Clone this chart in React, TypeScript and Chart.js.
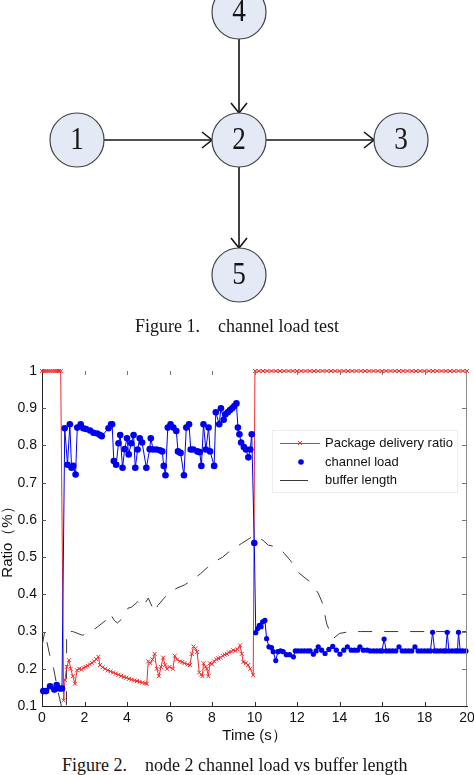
import React, { useEffect, useRef } from 'react';
import { Chart, registerables } from 'chart.js';
Chart.register(...registerables);

// ---------- Figure 1: network topology ----------
const nodeLabels = ['1', '2', '3', '4', '5'];
const nodeX = [77, 239, 401, 239, 239];
const nodeY = [140, 140, 140, 12, 275];
const nodeRadius = 27;
const edgeFrom = [0, 1, 3, 1];
const edgeTo = [1, 2, 1, 4];

// ---------- Figure 2: data (time s, ratio) ----------
const deliveryRatio: [number, number][] = [
  [0, 1], [0.1, 1], [0.2, 1], [0.3, 1], [0.4, 1], [0.5, 1], [0.6, 1], [0.7, 1], [0.8, 1], [0.88, 1],
  [1.02, 0.115], [1.08, 0.17], [1.16, 0.205], [1.27, 0.223], [1.35, 0.2], [1.45, 0.18], [1.55, 0.16],
  [1.65, 0.196], [1.75, 0.2], [1.85, 0.198], [1.95, 0.202], [2.05, 0.205], [2.15, 0.208], [2.25, 0.212],
  [2.35, 0.216], [2.45, 0.22], [2.55, 0.226], [2.65, 0.232], [2.73, 0.21], [2.85, 0.204], [2.97, 0.2],
  [3.1, 0.196], [3.22, 0.193], [3.35, 0.19], [3.47, 0.187], [3.6, 0.184], [3.72, 0.181], [3.85, 0.178],
  [3.97, 0.176], [4.1, 0.173], [4.22, 0.171], [4.35, 0.169], [4.47, 0.167], [4.6, 0.165], [4.72, 0.163],
  [4.85, 0.161], [4.93, 0.16], [5.0, 0.22], [5.1, 0.215], [5.2, 0.225], [5.3, 0.24], [5.4, 0.2], [5.5, 0.18],
  [5.6, 0.205], [5.7, 0.23], [5.8, 0.21], [5.88, 0.2], [6.0, 0.205], [6.16, 0.2], [6.25, 0.235], [6.35, 0.225],
  [6.5, 0.22], [6.6, 0.218], [6.7, 0.215], [6.85, 0.212], [6.96, 0.21], [7.05, 0.24], [7.13, 0.26], [7.22, 0.255],
  [7.3, 0.245], [7.4, 0.19], [7.5, 0.185], [7.55, 0.18], [7.6, 0.215], [7.7, 0.205], [7.75, 0.2], [7.83, 0.18],
  [7.9, 0.215], [8.0, 0.212], [8.1, 0.22], [8.2, 0.225], [8.3, 0.228], [8.4, 0.23], [8.5, 0.235], [8.6, 0.238],
  [8.7, 0.24], [8.8, 0.244], [8.9, 0.246], [9.0, 0.25], [9.1, 0.248], [9.2, 0.252], [9.32, 0.263], [9.4, 0.24],
  [9.47, 0.218], [9.6, 0.215], [9.7, 0.21], [9.8, 0.2], [9.94, 0.183],
  [10.02, 1], [10.2, 1], [10.4, 1], [10.6, 1], [10.8, 1], [11.0, 1], [11.2, 1], [11.4, 1], [11.6, 1], [11.8, 1],
  [12.0, 1], [12.2, 1], [12.4, 1], [12.6, 1], [12.8, 1], [13.0, 1], [13.2, 1], [13.4, 1], [13.6, 1], [13.8, 1],
  [14.0, 1], [14.2, 1], [14.4, 1], [14.6, 1], [14.8, 1], [15.0, 1], [15.2, 1], [15.4, 1], [15.6, 1], [15.8, 1],
  [16.0, 1], [16.2, 1], [16.4, 1], [16.6, 1], [16.8, 1], [17.0, 1], [17.2, 1], [17.4, 1], [17.6, 1], [17.8, 1],
  [18.0, 1], [18.2, 1], [18.4, 1], [18.6, 1], [18.8, 1], [19.0, 1], [19.2, 1], [19.4, 1], [19.6, 1], [19.8, 1],
  [20.0, 1],
];

const channelLoad: [number, number][] = [
  [0.06, 0.14], [0.19, 0.14], [0.38, 0.153], [0.58, 0.144], [0.69, 0.156], [0.82, 0.147], [0.94, 0.147],
  [1.07, 0.846], [1.2, 0.748], [1.31, 0.857], [1.39, 0.74], [1.47, 0.745], [1.58, 0.722], [1.66, 0.848],
  [1.82, 0.857], [1.94, 0.846], [2.07, 0.844], [2.26, 0.84], [2.42, 0.834], [2.6, 0.832], [2.73, 0.828],
  [2.81, 0.825], [3.13, 0.846], [3.25, 0.857], [3.3, 0.857], [3.38, 0.758], [3.49, 0.748], [3.6, 0.806],
  [3.68, 0.828], [3.79, 0.74], [3.89, 0.79], [4.0, 0.819], [4.08, 0.776], [4.2, 0.806], [4.31, 0.828],
  [4.39, 0.74], [4.5, 0.789], [4.6, 0.819], [4.71, 0.808], [4.91, 0.74], [5.07, 0.79], [5.12, 0.819],
  [5.23, 0.789], [5.39, 0.789], [5.55, 0.787], [5.66, 0.784], [5.73, 0.745], [5.81, 0.72], [5.92, 0.848],
  [6.05, 0.857], [6.18, 0.848], [6.32, 0.839], [6.4, 0.784], [6.52, 0.78], [6.68, 0.72], [6.79, 0.848],
  [6.92, 0.857], [7.0, 0.789], [7.12, 0.789], [7.31, 0.784], [7.42, 0.782], [7.5, 0.745], [7.6, 0.857],
  [7.71, 0.789], [7.84, 0.848], [7.91, 0.784], [8.1, 0.745], [8.18, 0.889], [8.34, 0.857], [8.42, 0.9],
  [8.55, 0.869], [8.63, 0.884], [8.74, 0.889], [8.85, 0.895], [8.95, 0.9], [9.05, 0.906], [9.15, 0.913],
  [9.22, 0.848], [9.29, 0.83], [9.37, 0.808], [9.5, 0.796], [9.6, 0.789], [9.71, 0.768], [9.8, 0.789],
  [9.87, 0.83], [9.99, 0.538], [10.06, 0.297], [10.15, 0.308], [10.23, 0.317], [10.31, 0.313], [10.38, 0.326],
  [10.49, 0.33], [10.57, 0.281], [10.68, 0.259], [10.8, 0.257], [10.88, 0.246], [11.0, 0.222], [11.1, 0.246],
  [11.23, 0.248], [11.35, 0.246], [11.5, 0.238], [11.65, 0.238], [11.83, 0.232], [11.92, 0.248], [12.05, 0.248],
  [12.2, 0.248], [12.35, 0.248], [12.5, 0.248], [12.62, 0.248], [12.77, 0.239], [12.9, 0.248], [13.0, 0.259],
  [13.16, 0.25], [13.32, 0.241], [13.5, 0.252], [13.68, 0.26], [13.85, 0.25], [14.02, 0.239], [14.2, 0.25],
  [14.37, 0.259], [14.55, 0.25], [14.7, 0.25], [14.85, 0.25], [14.96, 0.259], [15.12, 0.25], [15.3, 0.25],
  [15.45, 0.248], [15.6, 0.248], [15.75, 0.248], [15.9, 0.248], [16.0, 0.248], [16.1, 0.28], [16.2, 0.248],
  [16.35, 0.248], [16.5, 0.248], [16.65, 0.248], [16.8, 0.259], [16.95, 0.248], [17.1, 0.248], [17.25, 0.248],
  [17.4, 0.248], [17.55, 0.259], [17.7, 0.248], [17.85, 0.248], [18.0, 0.248], [18.15, 0.248], [18.28, 0.248],
  [18.38, 0.298], [18.48, 0.248], [18.6, 0.248], [18.75, 0.248], [18.9, 0.248], [19.0, 0.248], [19.07, 0.298],
  [19.15, 0.248], [19.3, 0.248], [19.45, 0.248], [19.55, 0.248], [19.6, 0.298], [19.68, 0.248], [19.8, 0.248],
  [19.95, 0.248],
];

const bufferLength: [number, number][] = [
  [0, 0.26], [0.13, 0.3], [0.35, 0.24], [0.55, 0.2], [0.75, 0.14], [0.95, 0.09], [1.15, 0.09], [1.16, 0.3],
  [1.45, 0.3], [1.9, 0.29], [2.26, 0.298], [2.6, 0.312], [3.0, 0.33], [3.2, 0.349], [3.4, 0.33], [3.55, 0.323],
  [3.8, 0.336], [4.05, 0.363], [4.2, 0.365], [4.5, 0.38], [4.75, 0.366], [5.0, 0.39], [5.3, 0.352], [5.45, 0.37],
  [5.75, 0.39], [6.0, 0.406], [6.4, 0.418], [6.7, 0.425], [7.05, 0.438], [7.45, 0.455], [7.8, 0.473], [8.1, 0.487],
  [8.5, 0.5], [8.9, 0.519], [9.4, 0.537], [10.0, 0.559], [10.4, 0.545], [10.65, 0.532], [11.1, 0.527], [11.4, 0.51],
  [11.7, 0.49], [12.1, 0.457], [12.6, 0.434], [13.0, 0.403], [13.2, 0.376], [13.4, 0.32], [13.7, 0.281],
  [14.0, 0.295], [14.5, 0.3], [15.0, 0.3], [16.0, 0.3], [17.0, 0.3], [18.0, 0.3], [19.0, 0.3], [20.0, 0.3],
];

const seriesNames = ['Package delivery ratio', 'channel load', 'buffer length'];
const xTitle = 'Time (s\uFF09';
const yTitle = 'Ratio\uFF08%\uFF09';
const caption1 = ['Figure 1.', 'channel load test'];
const caption2 = ['Figure 2.', 'node 2 channel load vs buffer length'];

const RED = '#f22a2a';
const BLUE = '#0000f0';
const GRAY = '#3a3a3a';
const SANS = '"Liberation Sans", Arial, sans-serif';
const SERIF = '"Liberation Serif", "Times New Roman", serif';

const toPts = (arr: [number, number][]) => arr.map(([x, y]) => ({ x, y }));

export default function App() {
  const topRef = useRef<HTMLCanvasElement>(null);
  const botRef = useRef<HTMLCanvasElement>(null);

  useEffect(() => {
    // ---------- diagram ----------
    const nodeData = nodeX.map((x, i) => ({ x, y: nodeY[i] }));
    const edgeSets: any[] = [];
    edgeFrom.forEach((f, i) => {
      const t = edgeTo[i];
      const dx = nodeX[t] - nodeX[f];
      const dy = nodeY[t] - nodeY[f];
      const len = Math.hypot(dx, dy);
      const ux = dx / len;
      const uy = dy / len;
      const sx = nodeX[f] + ux * nodeRadius;
      const sy = nodeY[f] + uy * nodeRadius;
      const ex = nodeX[t] - ux * nodeRadius;
      const ey = nodeY[t] - uy * nodeRadius;
      edgeSets.push({
        data: [{ x: sx, y: sy }, { x: ex, y: ey }],
        showLine: true, borderColor: '#151515', borderWidth: 1.6, pointRadius: 0, clip: false,
      });
      const back = 10;
      const side = 8;
      edgeSets.push({
        data: [
          { x: ex - ux * back - uy * side, y: ey - uy * back + ux * side },
          { x: ex, y: ey },
          { x: ex - ux * back + uy * side, y: ey - uy * back - ux * side },
        ],
        showLine: true, borderColor: '#151515', borderWidth: 1.6, pointRadius: 0, clip: false,
      });
    });

    const nodeText = {
      id: 'nodeText',
      afterDatasetsDraw(chart: any) {
        const { ctx, scales } = chart;
        ctx.save();
        ctx.fillStyle = '#151515';
        ctx.font = `32px ${SERIF}`;
        ctx.textAlign = 'center';
        ctx.textBaseline = 'alphabetic';
        nodeLabels.forEach((lab, i) => {
          const px = scales.x.getPixelForValue(nodeX[i]);
          const py = scales.y.getPixelForValue(nodeY[i]);
          ctx.save();
          ctx.translate(px, py + 9);
          ctx.scale(0.85, 1);
          ctx.fillText(lab, 0, 0);
          ctx.restore();
        });
        ctx.restore();
      },
    };

    const top = new Chart(topRef.current!, {
      type: 'scatter',
      data: {
        datasets: [
          {
            data: nodeData,
            pointRadius: nodeRadius,
            pointBackgroundColor: '#e3e9f5',
            pointBorderColor: '#444',
            pointBorderWidth: 1.2,
            showLine: false,
            clip: false,
          } as any,
          ...edgeSets,
        ],
      },
      options: {
        responsive: false,
        animation: false,
        events: [],
        layout: { padding: 0, autoPadding: false },
        plugins: { legend: { display: false }, tooltip: { enabled: false } },
        scales: {
          x: { type: 'linear', min: 0, max: 474, display: false },
          y: { type: 'linear', min: 0, max: 345, reverse: true, display: false },
        },
      },
      plugins: [nodeText],
    });

    // ---------- line chart ----------
    const innerTicks = {
      id: 'innerTicks',
      afterDraw(chart: any) {
        const { ctx, chartArea: a, scales } = chart;
        ctx.save();
        ctx.lineWidth = 1;
        ctx.strokeStyle = '#8a8a8a';
        ctx.beginPath();
        ctx.moveTo(a.right - 0.5, a.top);
        ctx.lineTo(a.right - 0.5, a.bottom);
        ctx.stroke();
        scales.x.ticks.forEach((t: any, i: number, arr: any[]) => {
          if (i === 0 || i === arr.length - 1) return;
          const px = Math.round(scales.x.getPixelForValue(t.value)) + 0.5;
          ctx.strokeStyle = '#333';
          ctx.beginPath();
          ctx.moveTo(px, a.bottom);
          ctx.lineTo(px, a.bottom - 4);
          ctx.stroke();
          ctx.strokeStyle = '#777';
          ctx.beginPath();
          ctx.moveTo(px, a.top);
          ctx.lineTo(px, a.top + 4);
          ctx.stroke();
        });
        scales.y.ticks.forEach((t: any, i: number, arr: any[]) => {
          if (i === 0 || i === arr.length - 1) return;
          const py = Math.round(scales.y.getPixelForValue(t.value)) + 0.5;
          ctx.strokeStyle = '#777';
          ctx.beginPath();
          ctx.moveTo(a.right, py);
          ctx.lineTo(a.right - 5, py);
          ctx.stroke();
          ctx.strokeStyle = '#555';
          ctx.beginPath();
          ctx.moveTo(a.left, py);
          ctx.lineTo(a.left + 4, py);
          ctx.stroke();
        });
        ctx.restore();
      },
    };

    const legendBox = {
      id: 'legendBox',
      afterDraw(chart: any) {
        const { ctx } = chart;
        ctx.save();
        ctx.fillStyle = '#ffffff';
        ctx.strokeStyle = '#ececec';
        ctx.lineWidth = 1;
        ctx.fillRect(272, 90, 185, 62);
        ctx.strokeRect(272.5, 90.5, 185, 62);
        const rows = [103, 122, 140];
        ctx.strokeStyle = RED;
        ctx.beginPath();
        ctx.moveTo(280, rows[0] + 0.5);
        ctx.lineTo(320, rows[0] + 0.5);
        ctx.stroke();
        ctx.beginPath();
        ctx.moveTo(298, rows[0] - 2);
        ctx.lineTo(302, rows[0] + 2);
        ctx.moveTo(302, rows[0] - 2);
        ctx.lineTo(298, rows[0] + 2);
        ctx.stroke();
        ctx.fillStyle = BLUE;
        ctx.beginPath();
        ctx.arc(301, rows[1], 2.8, 0, Math.PI * 2);
        ctx.fill();
        ctx.strokeStyle = GRAY;
        ctx.beginPath();
        ctx.moveTo(280, rows[2] + 0.5);
        ctx.lineTo(308, rows[2] + 0.5);
        ctx.stroke();
        ctx.fillStyle = '#111';
        ctx.font = `13px ${SANS}`;
        ctx.textAlign = 'left';
        ctx.textBaseline = 'middle';
        seriesNames.forEach((n, i) => ctx.fillText(n, 325, rows[i] + 0.5));
        ctx.restore();
      },
    };

    const bottom = new Chart(botRef.current!, {
      type: 'scatter',
      data: {
        datasets: [
          {
            label: seriesNames[1],
            data: toPts(channelLoad),
            showLine: true,
            borderColor: BLUE,
            borderWidth: 1,
            pointStyle: 'circle',
            pointRadius: (c: any) => (c.raw && c.raw.x < 10 ? 3.3 : 2.6),
            pointBackgroundColor: BLUE,
            pointBorderColor: BLUE,
            pointBorderWidth: 0,
            clip: 6,
          } as any,
          {
            label: seriesNames[0],
            data: toPts(deliveryRatio),
            showLine: true,
            borderColor: RED,
            borderWidth: 1,
            pointStyle: 'crossRot',
            pointRadius: 2.8,
            pointBorderColor: RED,
            pointBackgroundColor: RED,
            pointBorderWidth: 1,
            clip: 6,
          },
          {
            label: seriesNames[2],
            data: toPts(bufferLength),
            showLine: true,
            borderColor: GRAY,
            borderWidth: 1,
            borderDash: [14, 12],
            pointRadius: 0,
          },
        ],
      },
      options: {
        responsive: false,
        animation: false,
        events: [],
        layout: { padding: { top: 31, right: 7, left: 0, bottom: 0 }, autoPadding: false },
        plugins: { legend: { display: false }, tooltip: { enabled: false } },
        scales: {
          x: {
            type: 'linear',
            min: 0,
            max: 20,
            grid: { display: false, drawTicks: false },
            border: { display: true, color: '#222', width: 1 },
            ticks: {
              stepSize: 2,
              autoSkip: false,
              maxRotation: 0,
              padding: 4,
              color: '#111',
              font: { family: SANS, size: 14 },
            },
            title: {
              display: true,
              text: xTitle,
              color: '#111',
              font: { family: SANS, size: 15, lineHeight: 1.2 },
              padding: { top: 0, bottom: 5 },
            },
            afterFit: (s: any) => {
              s.height = 44;
              s.paddingLeft = 0;
              s.paddingRight = 0;
            },
          },
          y: {
            type: 'linear',
            min: 0.1,
            max: 1,
            grid: { display: false, drawTicks: false },
            border: { display: true, color: '#222', width: 1 },
            ticks: {
              stepSize: 0.1,
              padding: 5,
              color: '#111',
              font: { family: SANS, size: 14 },
              callback: (v: any) => String(Math.round(Number(v) * 10) / 10),
            },
            title: {
              display: true,
              text: yTitle,
              color: '#111',
              font: { family: SANS, size: 15, lineHeight: 1 },
              padding: 0,
            },
            afterFit: (s: any) => {
              s.width = 42;
              s.paddingTop = 0;
              s.paddingBottom = 0;
            },
          },
        },
      },
      plugins: [innerTicks, legendBox],
    });

    return () => {
      top.destroy();
      bottom.destroy();
    };
  }, []);

  const capStyle: React.CSSProperties = {
    position: 'absolute',
    fontFamily: SERIF,
    fontSize: 18,
    lineHeight: '18px',
    color: '#151515',
    whiteSpace: 'pre',
  };

  return (
    <div style={{ position: 'fixed', left: 0, top: 0, width: 474, height: 775, background: '#fff', overflow: 'hidden' }}>
      <canvas ref={topRef} width={474} height={345} style={{ position: 'absolute', left: 0, top: 0 }} />
      <span style={{ ...capStyle, left: 135, top: 317 }}>{caption1[0]}</span>
      <span style={{ ...capStyle, left: 218, top: 317 }}>{caption1[1]}</span>
      <canvas ref={botRef} width={474} height={410} style={{ position: 'absolute', left: 0, top: 340 }} />
      <span style={{ ...capStyle, left: 62, top: 756 }}>{caption2[0]}</span>
      <span style={{ ...capStyle, left: 145, top: 756 }}>{caption2[1]}</span>
    </div>
  );
}
